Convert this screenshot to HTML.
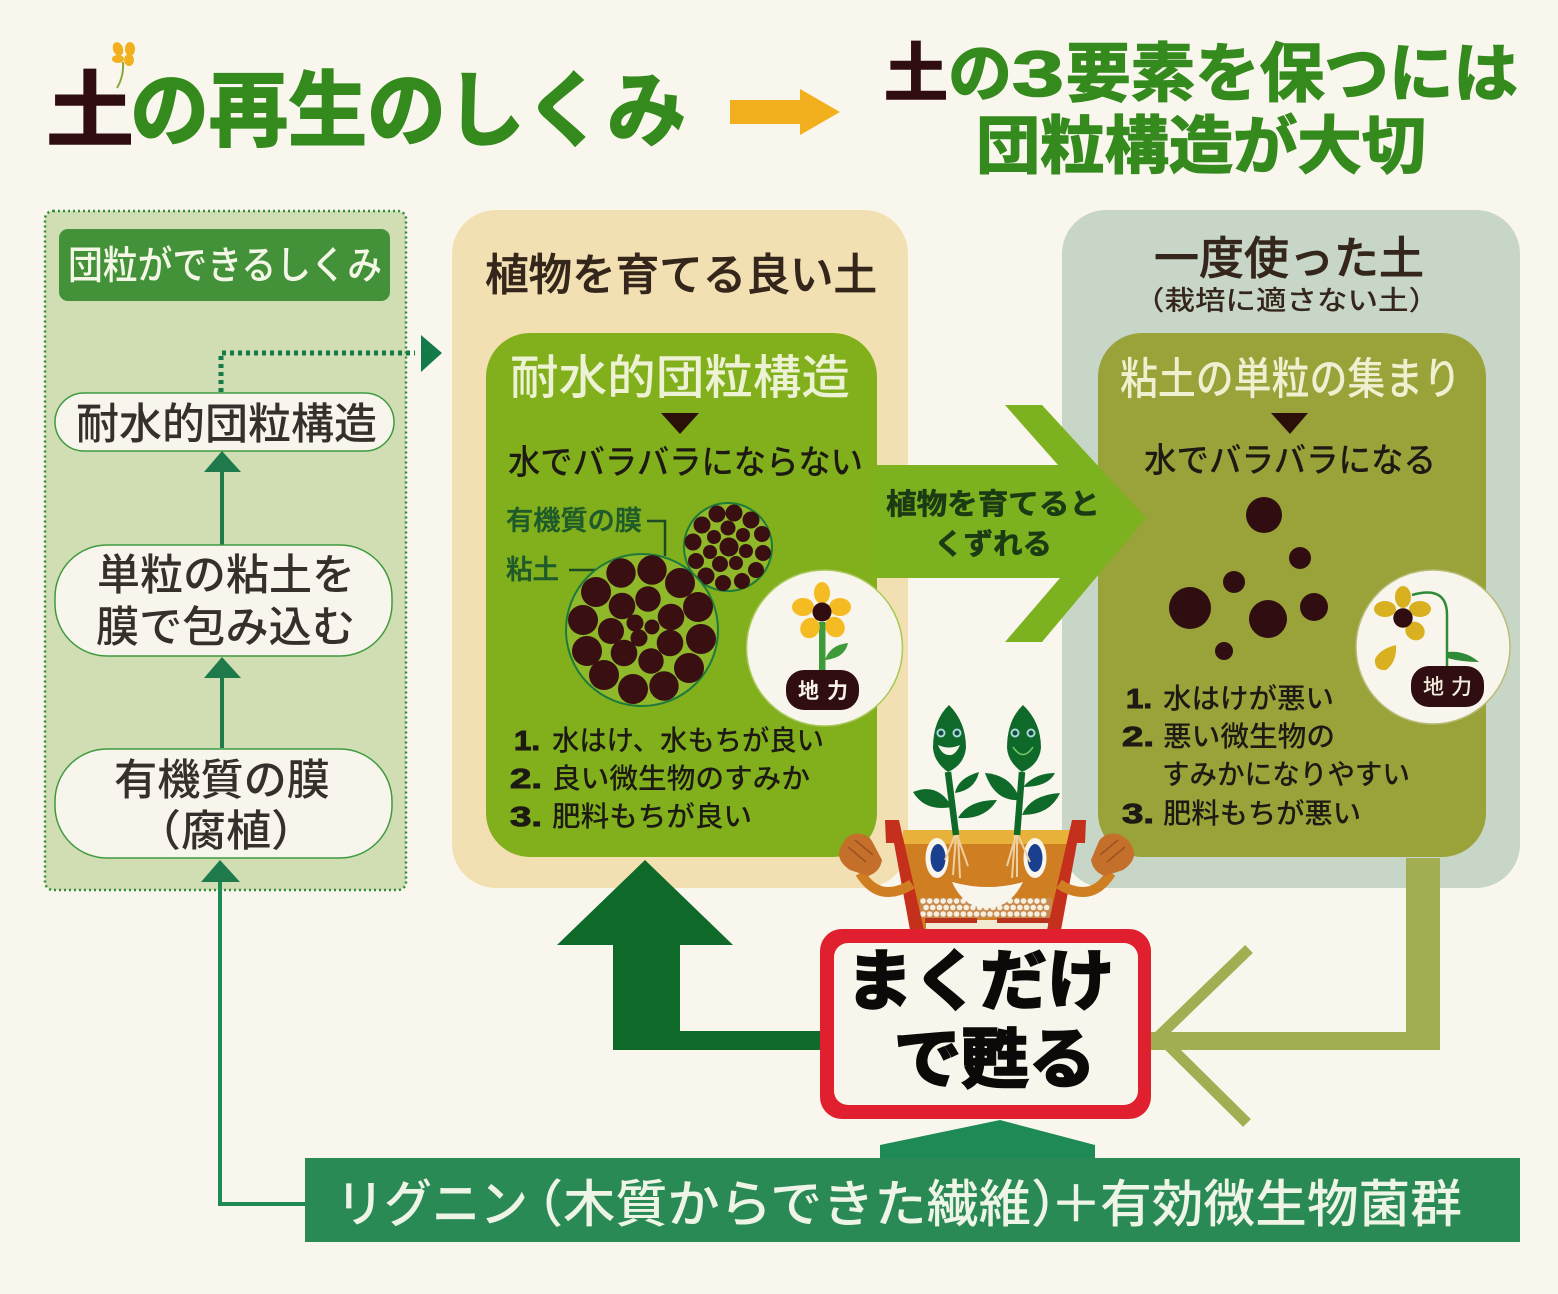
<!DOCTYPE html>
<html lang="ja"><head><meta charset="utf-8"><title>土の再生のしくみ</title>
<style>
html,body{margin:0;padding:0;background:#f9f6ee}
svg{display:block}
text{font-family:"Liberation Sans","Noto Sans CJK JP",sans-serif;font-weight:700}
.m{font-weight:500}
</style></head><body>
<svg width="1558" height="1294" viewBox="0 0 1558 1294" xmlns="http://www.w3.org/2000/svg">
<rect width="1558" height="1294" fill="#f9f6ee"/>
<!-- Title -->
<path d="M123 62Q124 76 117 88" fill="none" stroke="#8aa83a" stroke-width="2"/>
<g fill="#f2b01e"><ellipse cx="130" cy="49" rx="5" ry="7"/><ellipse cx="118" cy="49" rx="5" ry="7" transform="rotate(-20 118 49)"/><ellipse cx="118" cy="59" rx="6" ry="4"/><ellipse cx="129" cy="60" rx="5" ry="6"/></g>
<text x="46" y="140" font-size="83" fill="#2f0d10" stroke="#2f0d10" stroke-width="1.5" textLength="88" lengthAdjust="spacingAndGlyphs">土</text>
<text x="130" y="139" font-size="82" fill="#348a1c" stroke="#348a1c" stroke-width="2" textLength="556" lengthAdjust="spacingAndGlyphs">の再生のしくみ</text>
<path d="M730 100H800V89L840 112L800 135V124H730Z" fill="#f2b01e"/>
<text x="884" y="96" font-size="64" fill="#2f0d10" stroke="#2f0d10" stroke-width="1.5" textLength="64" lengthAdjust="spacingAndGlyphs">土</text>
<g font-size="64" fill="#348a1c" stroke="#348a1c" stroke-width="1.5">
<text x="948" y="96" textLength="64" lengthAdjust="spacingAndGlyphs">の</text>
<text x="1012" y="96" textLength="52" lengthAdjust="spacingAndGlyphs">3</text>
<text x="1066" y="96" textLength="452" lengthAdjust="spacingAndGlyphs">要素を保つには</text>
</g>
<text x="976" y="168" font-size="63" fill="#348a1c" stroke="#348a1c" stroke-width="1.5" textLength="450" lengthAdjust="spacingAndGlyphs">団粒構造が大切</text>

<!-- Left panel -->
<rect x="45" y="211" width="361" height="679" rx="8" fill="#d1deb3" stroke="#2f8a3a" stroke-width="2.5" stroke-dasharray="2 3"/>
<rect x="59" y="229" width="331" height="72" rx="9" fill="#43923a"/>
<text x="68" y="279" font-size="39" fill="#f4f6e6" class="m" textLength="314" lengthAdjust="spacingAndGlyphs">団粒ができるしくみ</text>
<path d="M221 392V353H415" fill="none" stroke="#147a4a" stroke-width="5" stroke-dasharray="4 4"/>
<path d="M421 335L442 353L421 372Z" fill="#147a4a"/>
<rect x="55" y="393" width="339" height="58" rx="29" fill="#f8f6ec" stroke="#3f9a3f" stroke-width="1.5"/>
<text x="76" y="439" font-size="43" fill="#35302c" class="m" textLength="301" lengthAdjust="spacingAndGlyphs">耐水的団粒構造</text>
<path d="M222 545V470" stroke="#1e7a4a" stroke-width="4"/><path d="M204 472L222 451L241 472Z" fill="#1e7a4a"/>
<rect x="55" y="545" width="337" height="111" rx="52" fill="#f8f6ec" stroke="#3f9a3f" stroke-width="1.5"/>
<text x="97" y="590" font-size="43" fill="#35302c" class="m" textLength="258" lengthAdjust="spacingAndGlyphs">単粒の粘土を</text>
<text x="96" y="642" font-size="43" fill="#35302c" class="m" textLength="259" lengthAdjust="spacingAndGlyphs">膜で包み込む</text>
<path d="M222 748V676" stroke="#1e7a4a" stroke-width="4"/><path d="M204 678L222 657L241 678Z" fill="#1e7a4a"/>
<rect x="55" y="749" width="337" height="109" rx="52" fill="#f8f6ec" stroke="#3f9a3f" stroke-width="1.5"/>
<text x="114" y="795" font-size="43" fill="#35302c" class="m" textLength="216" lengthAdjust="spacingAndGlyphs">有機質の膜</text>
<text x="136" y="846" font-size="43" fill="#35302c" class="m" textLength="180" lengthAdjust="spacingAndGlyphs">（腐植）</text>
<path d="M220 875V1204H306" fill="none" stroke="#1e8a55" stroke-width="4"/>
<path d="M201 882L220 860L240 882Z" fill="#1e7a4a"/>

<!-- Middle panel -->
<rect x="452" y="210" width="456" height="678" rx="44" fill="#f3e0b2"/>
<text x="485" y="290" font-size="44" fill="#35261c" stroke="#35261c" stroke-width=".6" class="m" textLength="392" lengthAdjust="spacingAndGlyphs">植物を育てる良い土</text>
<rect x="486" y="333" width="391" height="524" rx="44" fill="#82b01c"/>
<text x="510" y="394" font-size="47" fill="#eef2d4" class="m" textLength="340" lengthAdjust="spacingAndGlyphs">耐水的団粒構造</text>
<path d="M661 413H699L680 434Z" fill="#2a1008"/>
<text x="508" y="474" font-size="34" fill="#1c1a12" class="m" textLength="355" lengthAdjust="spacingAndGlyphs">水でバラバラにならない</text>
<text x="506" y="530" font-size="27" fill="#1f5a2a" stroke="#1f5a2a" stroke-width=".5" class="m" textLength="136" lengthAdjust="spacingAndGlyphs">有機質の膜</text>
<text x="506" y="579" font-size="27" fill="#1f5a2a" stroke="#1f5a2a" stroke-width=".5" class="m" textLength="53" lengthAdjust="spacingAndGlyphs">粘土</text>
<path d="M647 521H665V556M569 570H605" fill="none" stroke="#1f4a22" stroke-width="2.5"/>
<!-- small circle -->
<circle cx="728" cy="547" r="44" fill="#8fb92a" stroke="#1e7a3c" stroke-width="2"/>
<g fill="#3a0f12">
<circle cx="717" cy="514" r="8.5"/><circle cx="734" cy="513" r="8.5"/><circle cx="751" cy="520" r="8.5"/><circle cx="702" cy="525" r="8.5"/><circle cx="728" cy="528" r="7.5"/><circle cx="762" cy="534" r="8"/><circle cx="693" cy="542" r="8.5"/><circle cx="714" cy="537" r="7"/><circle cx="743" cy="535" r="7"/><circle cx="729" cy="547" r="9.5"/><circle cx="710" cy="552" r="7"/><circle cx="746" cy="551" r="7"/><circle cx="763" cy="553" r="8"/><circle cx="696" cy="561" r="8"/><circle cx="720" cy="564" r="8"/><circle cx="736" cy="563" r="7"/><circle cx="756" cy="570" r="8"/><circle cx="706" cy="576" r="8.5"/><circle cx="723" cy="583" r="8"/><circle cx="742" cy="581" r="8"/>
</g>
<!-- large circle -->
<circle cx="642" cy="630" r="76" fill="#8fb92a" stroke="#1e7a3c" stroke-width="2"/>
<g fill="#3a0f12">
<circle cx="621" cy="573" r="14.7"/><circle cx="652" cy="570" r="14.7"/><circle cx="680" cy="583" r="15"/><circle cx="596" cy="592" r="15"/><circle cx="622" cy="606" r="13.3"/><circle cx="648" cy="599" r="12.7"/><circle cx="698" cy="607" r="15"/><circle cx="583" cy="620" r="15"/><circle cx="611" cy="631" r="13"/><circle cx="635" cy="623" r="8.5"/><circle cx="652" cy="627" r="7.5"/><circle cx="639" cy="638" r="8.5"/><circle cx="671" cy="617" r="13.3"/><circle cx="701" cy="639" r="15"/><circle cx="670" cy="643" r="13.3"/><circle cx="587" cy="651" r="15"/><circle cx="624" cy="653" r="13.3"/><circle cx="651" cy="661" r="12.7"/><circle cx="689" cy="668" r="15"/><circle cx="604" cy="675" r="15"/><circle cx="633" cy="689" r="15"/><circle cx="664" cy="686" r="14.7"/>
</g>
<!-- flower good -->
<circle cx="824.5" cy="648" r="78" fill="#f8f6ec" stroke="#a8c85a" stroke-width="1.5"/>
<rect x="819" y="622" width="6.5" height="48" fill="#3f9a3a"/>
<path d="M825 660Q830 645 848 643Q845 658 825 660Z" fill="#3f9a3a"/>
<g fill="#f5bb22"><ellipse cx="822" cy="593" rx="8" ry="11"/><ellipse cx="803" cy="607" rx="11" ry="9"/><ellipse cx="840" cy="607" rx="11" ry="9"/><ellipse cx="810" cy="628" rx="9.5" ry="10.5" transform="rotate(30 810 628)"/><ellipse cx="835" cy="627" rx="9.5" ry="10.5" transform="rotate(-30 835 627)"/></g>
<circle cx="822" cy="612" r="9.5" fill="#2f0d10"/>
<rect x="786" y="670" width="73" height="40" rx="18" fill="#2f0d10"/>
<text x="798" y="698" font-size="21" fill="#f6f3e6" textLength="50" lengthAdjust="spacing">地 力</text>
<!-- list -->
<g fill="#1c1a12" stroke="#1c1a12" stroke-width="1">
<text x="514" y="750" font-size="28" textLength="26" lengthAdjust="spacingAndGlyphs">1.</text>
<text x="510" y="788" font-size="28" textLength="32" lengthAdjust="spacingAndGlyphs">2.</text>
<text x="510" y="826" font-size="28" textLength="32" lengthAdjust="spacingAndGlyphs">3.</text>
</g>
<g fill="#1c1a12" font-size="28">
<text x="552" y="750" class="m" textLength="272" lengthAdjust="spacingAndGlyphs">水はけ、水もちが良い</text>
<text x="552" y="788" class="m" textLength="258" lengthAdjust="spacingAndGlyphs">良い微生物のすみか</text>
<text x="552" y="826" class="m" textLength="200" lengthAdjust="spacingAndGlyphs">肥料もちが良い</text>
</g>

<!-- Right panel -->
<rect x="1062" y="210" width="458" height="678" rx="44" fill="#c7d6c6"/>
<text x="1154" y="274" font-size="45" fill="#35261c" stroke="#35261c" stroke-width=".6" class="m" textLength="270" lengthAdjust="spacingAndGlyphs">一度使った土</text>
<text x="1134" y="310" font-size="27" fill="#35261c" class="m" textLength="305" lengthAdjust="spacingAndGlyphs">（栽培に適さない土）</text>
<rect x="1098" y="333" width="388" height="524" rx="44" fill="#9aa23a"/>
<text x="1120" y="394" font-size="44" fill="#eef0d0" class="m" textLength="341" lengthAdjust="spacingAndGlyphs">粘土の単粒の集まり</text>
<path d="M1271 413H1308L1290 434Z" fill="#2a1008"/>
<text x="1144" y="472" font-size="34" fill="#1c1a12" class="m" textLength="292" lengthAdjust="spacingAndGlyphs">水でバラバラになる</text>
<g fill="#2f0d10"><circle cx="1264" cy="515" r="18"/><circle cx="1300" cy="558" r="11"/><circle cx="1234" cy="582" r="11"/><circle cx="1190" cy="608" r="21"/><circle cx="1268" cy="619" r="19"/><circle cx="1314" cy="607" r="14"/><circle cx="1224" cy="651" r="9"/></g>
<circle cx="1433" cy="647" r="77" fill="#f8f6ec" stroke="#b8bc7a" stroke-width="1.5"/>
<path d="M1412 595Q1447 585 1447 615V667" fill="none" stroke="#2f8a3a" stroke-width="2.5"/>
<path d="M1447 652Q1465 650 1479 662Q1462 662 1447 658Z" fill="#2f8a3a"/>
<g fill="#d9b020"><ellipse cx="1403" cy="597" rx="8" ry="11"/><ellipse cx="1385" cy="609" rx="11" ry="8"/><ellipse cx="1420" cy="609" rx="11" ry="8"/><ellipse cx="1415" cy="631" rx="10" ry="9" transform="rotate(35 1415 631)"/><path d="M1396 645Q1397 662 1386 670Q1374 671 1375 659Q1380 649 1396 645Z"/></g>
<circle cx="1403" cy="618" r="9.7" fill="#2f0d10"/>
<rect x="1411" y="666" width="73" height="41" rx="18" fill="#2f0d10"/>
<text x="1423" y="694" font-size="21" fill="#f0ecdc" class="m" textLength="49" lengthAdjust="spacing">地 力</text>
<g fill="#1c1a12" stroke="#1c1a12" stroke-width="1">
<text x="1126" y="708" font-size="28" textLength="26" lengthAdjust="spacingAndGlyphs">1.</text>
<text x="1122" y="746" font-size="28" textLength="32" lengthAdjust="spacingAndGlyphs">2.</text>
<text x="1122" y="823" font-size="28" textLength="32" lengthAdjust="spacingAndGlyphs">3.</text>
</g>
<g fill="#1c1a12">
<text x="1163" y="708" font-size="28" class="m" textLength="171" lengthAdjust="spacingAndGlyphs">水はけが悪い</text>
<text x="1163" y="746" font-size="28" class="m" textLength="172" lengthAdjust="spacingAndGlyphs">悪い微生物の</text>
<text x="1162" y="784" font-size="28" class="m" textLength="248" lengthAdjust="spacingAndGlyphs">すみかになりやすい</text>
<text x="1163" y="823" font-size="28" class="m" textLength="198" lengthAdjust="spacingAndGlyphs">肥料もちが悪い</text>
</g>

<!-- Big arrow -->
<path d="M877 465H1058L1005 405H1042L1146 518L1042 642H1005L1060 578H877Z" fill="#7cb21f"/>
<text x="886" y="514" font-size="29" fill="#1c3a14" stroke="#1c3a14" stroke-width=".6" textLength="214" lengthAdjust="spacingAndGlyphs">植物を育てると</text>
<text x="934" y="554" font-size="29" fill="#1c3a14" stroke="#1c3a14" stroke-width=".6" textLength="118" lengthAdjust="spacingAndGlyphs">くずれる</text>

<!-- Bottom flows -->
<path d="M613 1050V945H557L645 860L733 945H680V1031H830V1050Z" fill="#0f6a2a"/>
<path d="M1406 858H1440V1050H1150V1032H1406Z" fill="#a3ad52"/>
<path d="M1249 949L1159 1036L1247 1123" fill="none" stroke="#a3ad52" stroke-width="11"/>
<path d="M880 1145L1000 1120L1095 1145V1160H880Z" fill="#1e8a55"/>
<rect x="305" y="1158" width="1215" height="84" fill="#2a8a55"/>
<g font-size="51" fill="#eef4e6">
<text x="336" y="1222" class="m" textLength="192" lengthAdjust="spacingAndGlyphs">リグニン</text>
<text x="511" y="1222" class="m" textLength="572" lengthAdjust="spacingAndGlyphs">（木質からできた繊維）</text>
<text x="1050" y="1222" class="m" textLength="52" lengthAdjust="spacingAndGlyphs">＋</text>
<text x="1100" y="1222" class="m" textLength="362" lengthAdjust="spacingAndGlyphs">有効微生物菌群</text>
</g>

<!-- Mascot -->
<g>
<!-- pot body -->
<path d="M903 843H1068L1050 930H921Z" fill="#cf7f22"/>
<rect x="903" y="830" width="167" height="14" fill="#e8b23a"/>
<rect x="926" y="920" width="122" height="10" fill="#f3ead4"/>
<!-- pebbles -->
<rect x="920" y="898" width="132" height="20" fill="#c98a50"/>
<g fill="none" stroke="#f4efdf" stroke-width="5.5" stroke-dasharray="0.1 6.6" stroke-linecap="round">
<path d="M923 901H1050"/><path d="M926 907.5H1050"/><path d="M923 914H1050"/>
</g>
<path d="M925 918H977V923H925ZM997 918H1050V923H997Z" fill="#b8321c"/>
<!-- mouth -->
<path d="M952 882Q988 892 1023 882Q1010 908 987 908Q964 908 952 882Z" fill="#f8f6ec"/>
<!-- red strips -->
<path d="M885 820H899L924 930H910L894 843H886Z" fill="#c5301c"/>
<path d="M1086 820H1072L1047 930H1061L1077 843H1085Z" fill="#c5301c"/>
<!-- eyes -->
<ellipse cx="937" cy="858" rx="11.5" ry="20" fill="#f8f6ec"/><ellipse cx="938" cy="858" rx="7.5" ry="14" fill="#1a3f8f"/>
<ellipse cx="1035" cy="858" rx="11.5" ry="20" fill="#f8f6ec"/><ellipse cx="1035" cy="858" rx="7.5" ry="14" fill="#1a3f8f"/>
<!-- roots -->
<path d="M956 835L953 875M957 835L968 866M955 835L945 860M958 835L960 878M1017 835L1017 877M1016 835L1007 866M1018 835L1030 862M1015 835L1012 878" stroke="#eecfa0" stroke-width="2" fill="none"/>
<!-- arms -->
<path d="M860 873Q872 892 888 892Q900 892 912 884" fill="none" stroke="#cf7f22" stroke-width="10"/>
<path d="M1111 873Q1099 892 1083 892Q1071 892 1059 884" fill="none" stroke="#cf7f22" stroke-width="10"/>
<!-- fists -->
<path d="M853 834Q866 832 872 841L882 860Q880 872 868 876L850 870Q838 862 839 852Q843 838 853 834Z" fill="#c5702a"/>
<path d="M1118 834Q1105 832 1099 841L1091 860Q1093 872 1105 876L1123 870Q1135 862 1134 852Q1130 838 1118 834Z" fill="#c5702a"/>
<path d="M848 847L866 862M855 840L873 855M1125 847L1107 862M1118 840L1100 855" stroke="#9a5320" stroke-width="1.5" fill="none"/>
<!-- plants -->
<path d="M948 772L956 835M1022 772L1017 835" stroke="#0f6a2a" stroke-width="6.5" fill="none"/>
<path d="M949 705Q966 722 966 748Q964 765 948 772Q934 762 933 748Q933 720 949 705Z" fill="#0f6a2a"/>
<path d="M1023 705Q1041 722 1041 748Q1039 765 1022 772Q1008 762 1007 748Q1007 720 1023 705Z" fill="#0f6a2a"/>
<g fill="#0f6a2a">
<path d="M913 792Q938 782 952 807Q925 812 913 792Z"/><path d="M955 793Q958 778 979 772Q975 790 955 793Z"/><path d="M958 818Q968 800 997 800Q985 820 958 818Z"/>
<path d="M985 773Q1012 775 1020 800Q995 802 985 773Z"/><path d="M1023 787Q1035 773 1055 773Q1048 787 1023 787Z"/><path d="M1022 815Q1030 795 1060 793Q1050 815 1022 815Z"/>
</g>
<circle cx="941" cy="733" r="3.5" fill="#0f4a3a" stroke="#a8d8d8" stroke-width="2"/><circle cx="957" cy="733" r="3.5" fill="#0f4a3a" stroke="#a8d8d8" stroke-width="2"/>
<circle cx="1015" cy="733" r="3.5" fill="#0f4a3a" stroke="#a8d8d8" stroke-width="2"/><circle cx="1031" cy="733" r="3.5" fill="#0f4a3a" stroke="#a8d8d8" stroke-width="2"/>
<path d="M938 745Q949 750 960 745Q955 756 949 755Q942 755 938 745Z" fill="#f8f6ec"/>
<path d="M1013 747Q1023 762 1033 747" fill="none" stroke="#7cc86a" stroke-width="1.5"/>
</g>

<!-- Red box -->
<rect x="820" y="929" width="331" height="190" rx="22" fill="#e0202e"/>
<rect x="834" y="943" width="304" height="162" rx="14" fill="#f8f6ec"/>
<text x="846" y="1004" font-size="66" fill="#0c0a08" stroke="#0c0a08" stroke-width="2.5" textLength="268" lengthAdjust="spacingAndGlyphs">まくだけ</text>
<text x="894" y="1082" font-size="66" fill="#0c0a08" stroke="#0c0a08" stroke-width="2.5" textLength="202" lengthAdjust="spacingAndGlyphs">で甦る</text>
</svg>
</body></html>
